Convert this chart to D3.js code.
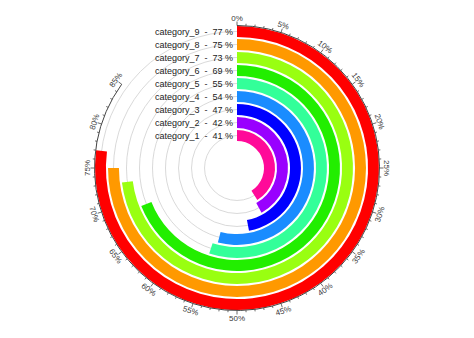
<!DOCTYPE html>
<html>
<head>
<meta charset="utf-8">
<script src="https://cdn.jsdelivr.net/npm/d3@7"></script>
<style>
  html, body { margin: 0; padding: 0; background: #fff; }
  svg { display: block; }
</style>
</head>
<body>
<svg id="chart" width="474" height="338"></svg>
<script>
// Radial bar chart: one ring per category, percentage as angle
const categories = ["category_1", "category_2", "category_3", "category_4", "category_5",
                    "category_6", "category_7", "category_8", "category_9"];
const values = [41, 42, 47, 54, 55, 69, 73, 75, 77];
const colors = ["#FF0A99", "#9900FF", "#0000FF", "#1A8CFF", "#33FF99",
                "#22EE00", "#99FF11", "#FF9900", "#FF0000"];
const tickValues = d3.range(0, 86, 5);
const minorTickValues = d3.range(0, 86, 1);
const axisMax = 85;

const width = 474, height = 338;
const cx = 237, cy = 168;
const innerR = 27, outerR = 142;

const svg = d3.select("#chart");
const g = svg.append("g").attr("transform", `translate(${cx},${cy})`);

const angle = d3.scaleLinear().domain([0, 100]).range([0, 2 * Math.PI]);
const radius = d3.scaleBand().domain(categories).range([innerR, outerR]).paddingInner(0.16);
const bw = radius.bandwidth();

const rows = categories.map((c, i) => ({ category: c, value: values[i], color: colors[i] }));

// guide circles through the middle of each ring
g.selectAll("circle.track")
  .data(rows)
  .join("circle")
  .attr("class", "track")
  .attr("r", d => radius(d.category) + bw / 2)
  .attr("fill", "none")
  .attr("stroke", "#cfcfcf")
  .attr("stroke-width", 0.8);

// bars
const arc = d3.arc()
  .innerRadius(d => radius(d.category))
  .outerRadius(d => radius(d.category) + bw)
  .startAngle(0)
  .endAngle(d => angle(d.value));

g.selectAll("path.bar")
  .data(rows)
  .join("path")
  .attr("class", "bar")
  .attr("d", arc)
  .attr("fill", d => d.color);

// category labels, right-aligned just left of the start line
g.selectAll("text.cat")
  .data(rows)
  .join("text")
  .attr("class", "cat")
  .attr("x", -4)
  .attr("y", d => -(radius(d.category) + bw / 2))
  .attr("dy", "0.35em")
  .attr("text-anchor", "end")
  .attr("font-family", "Liberation Sans, Arial, sans-serif")
  .attr("font-size", 9)
  .attr("fill", "#222")
  .style("white-space", "pre")
  .text(d => `${d.category}  -  ${d.value} %`);

// outer percentage axis
const axisR = outerR + 0.5;
const p = d3.path();
p.arc(0, 0, axisR, -Math.PI / 2, angle(axisMax) - Math.PI / 2);
g.append("path")
  .attr("d", p.toString())
  .attr("fill", "none")
  .attr("stroke", "#444")
  .attr("stroke-width", 1);

function polar(r, v) {
  const a = angle(v);
  return [r * Math.sin(a), -r * Math.cos(a)];
}

g.selectAll("line.minor")
  .data(minorTickValues)
  .join("line")
  .attr("class", "minor")
  .attr("x1", d => polar(axisR, d)[0])
  .attr("y1", d => polar(axisR, d)[1])
  .attr("x2", d => polar(axisR + (d % 5 === 0 ? 4 : 2), d)[0])
  .attr("y2", d => polar(axisR + (d % 5 === 0 ? 4 : 2), d)[1])
  .attr("stroke", "#444")
  .attr("stroke-width", 0.8);

g.selectAll("text.tick")
  .data(tickValues)
  .join("text")
  .attr("class", "tick")
  .attr("transform", d => {
    const [x, y] = polar(150, d);
    const deg = angle(d) * 180 / Math.PI;
    const rot = (deg > 90 && deg < 270) ? deg - 180 : deg;
    return `translate(${x},${y}) rotate(${rot})`;
  })
  .attr("text-anchor", "middle")
  .attr("dy", "0.35em")
  .attr("font-family", "Liberation Sans, Arial, sans-serif")
  .attr("font-size", 8)
  .attr("fill", "#3a3a3a")
  .text(d => `${d}%`);
</script>
</body>
</html>
